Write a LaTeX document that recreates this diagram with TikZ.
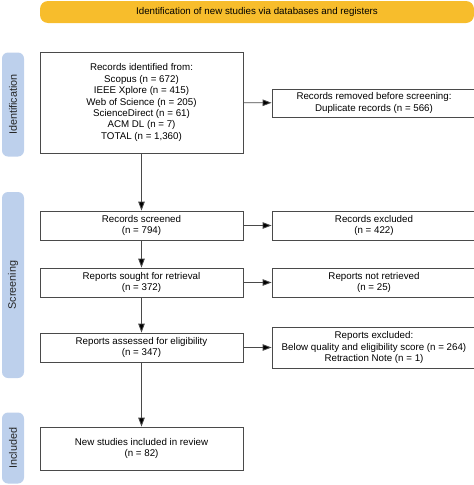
\documentclass[tikz,border=0pt]{standalone}
\usepackage{fontspec}
\setmainfont{Liberation Sans}
\usetikzlibrary{arrows.meta}
\definecolor{bannerc}{HTML}{F7BD2C}
\definecolor{sidec}{HTML}{BDD0EC}
\definecolor{linec}{HTML}{4A4A4A}
\begin{document}
\begin{tikzpicture}[x=1pt,y=-1pt,
  box/.style={draw=linec,line width=0.8pt,fill=white,align=center,inner sep=0pt,font=\fontsize{9.75}{11.4}\selectfont},
  sidelab/.style={fill=sidec,rounded corners=6pt,inner sep=0pt,minimum width=22pt},
  sidetext/.style={rotate=90,font=\fontsize{10.8}{12}\selectfont,text=black!85},
  arr/.style={draw=linec,line width=0.8pt,-{Triangle[length=9pt,width=6.5pt,fill=black]}}]
\useasboundingbox (0,0) rectangle (474,485);
% banner
\node[fill=bannerc,rounded corners=8pt,minimum width=434pt,minimum height=22pt,inner sep=0pt,font=\fontsize{9.75}{11}\selectfont] (banner) at (257,12) {Identification of new studies via databases and registers};
% side labels
\node[sidelab,minimum height=104pt] (idl) at (13,104.5) {};
\node[sidetext] (idt) at (idl.center) {Identification};
\node[sidelab,minimum height=186pt] (scl) at (13,285) {};
\node[sidetext] (sct) at (scl.center) {Screening};
\node[sidelab,minimum height=71pt] (inl) at (13,448) {};
\node[sidetext] (int) at (inl.center) {Included};
% left boxes
\node[box,minimum width=203pt,minimum height=101pt] (rid) at (141.5,102.5) {Records identified from:\\Scopus (n = 672)\\IEEE Xplore (n = 415)\\Web of Science (n = 205)\\ScienceDirect (n = 61)\\ACM DL (n = 7)\\TOTAL (n = 1,360)};
\node[box,minimum width=203pt,minimum height=29pt] (rs) at (141.5,225.5) {Records screened\\(n = 794)};
\node[box,minimum width=203pt,minimum height=29pt] (rsr) at (141.5,282.5) {Reports sought for retrieval\\(n = 372)};
\node[box,minimum width=203pt,minimum height=29pt] (ra) at (141.5,347.5) {Reports assessed for eligibility\\(n = 347)};
\node[box,minimum width=203pt,minimum height=43pt] (inc) at (141.5,448.5) {New studies included in review\\(n = 82)};
% right boxes
\node[box,minimum width=204pt,minimum height=28pt] (rem) at (374,103) {Records removed before screening:\\Duplicate records (n = 566)};
\node[box,minimum width=204pt,minimum height=29pt] (rex) at (374,225.5) {Records excluded\\(n = 422)};
\node[box,minimum width=204pt,minimum height=29pt] (rnr) at (374,282.5) {Reports not retrieved\\(n = 25)};
\node[box,minimum width=204pt,minimum height=41pt] (rexc) at (374,347.5) {Reports excluded:\\Below quality and eligibility score (n = 264)\\Retraction Note (n = 1)};
% arrows
\draw[arr] (rid) -- (rs);
\draw[arr] (rs) -- (rsr);
\draw[arr] (rsr) -- (ra);
\draw[arr] (ra) -- (inc);
\draw[arr] (rid) -- (rem);
\draw[arr] (rs) -- (rex);
\draw[arr] (rsr) -- (rnr);
\draw[arr] (ra) -- (rexc);
\end{tikzpicture}
\end{document}
